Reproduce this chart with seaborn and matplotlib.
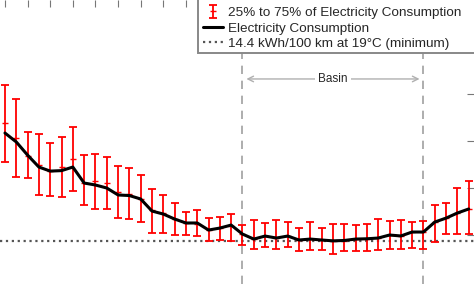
import matplotlib
matplotlib.use('Agg')
import matplotlib.pyplot as plt
from matplotlib.patches import Rectangle
import seaborn as sns
import numpy as np
import pandas as pd

# outside temperature (°C), one point per degree
temps = list(range(-10, 32))

# electricity consumption (kWh/100 km)
consumption = [25.85, 24.9, 23.5, 22.23, 21.8, 21.85, 22.23, 20.53, 20.32, 20.0,
               19.26, 19.2, 18.83, 17.55, 17.23, 16.7, 16.28, 16.28, 15.53, 15.74,
               16.06, 15.1, 14.57, 14.89, 14.68, 14.89, 14.47, 14.57, 14.47, 14.38,
               14.42, 14.57, 14.6, 14.68, 15.0, 14.9, 15.32, 15.32, 16.38, 16.8,
               17.34, 17.77]
median = [26.9, 25.3, 23.4, 22.4, 21.8, 22.2, 23.1, 20.5, 20.7, 20.5,
          19.6, 19.4, 18.8, 17.7, 17.3, 16.7, 16.3, 16.2, 15.5, 15.7,
          16.0, 15.1, 14.6, 14.9, 14.7, 14.9, 14.5, 14.6, 14.5, 14.4,
          14.4, 14.6, 14.6, 14.7, 15.0, 14.9, 15.3, 15.3, 16.4, 16.8,
          17.3, 17.8]
q75 = [30.96, 29.47, 25.96, 25.74, 24.79, 25.43, 26.49, 23.51, 23.6, 23.3,
       22.34, 22.13, 21.38, 19.89, 19.26, 18.4, 17.45, 17.66, 16.8, 16.9,
       17.23, 16.06, 16.6, 16.28, 16.6, 16.38, 15.74, 16.38, 15.74, 16.17,
       16.17, 16.06, 16.17, 16.7, 16.49, 16.6, 16.38, 16.49, 18.19, 18.4,
       20.0, 20.74]
q25 = [22.77, 21.17, 21.06, 19.26, 19.15, 19.04, 19.68, 18.19, 17.77, 17.77,
       16.81, 16.7, 16.38, 15.21, 15.21, 15.0, 15.0, 14.89, 14.36, 14.47,
       14.36, 13.94, 13.51, 13.72, 13.51, 13.72, 13.3, 13.4, 13.4, 12.98,
       13.3, 13.3, 13.3, 13.4, 13.51, 13.51, 13.6, 13.51, 14.26, 15.1,
       15.1, 15.1]

minimum = 14.4
basin = [11, 27]

sns.set_style('white')
plt.rcParams['font.family'] = ['Liberation Sans', 'DejaVu Sans']

fig = plt.figure(figsize=(4.74, 2.84), dpi=100)
ax = fig.add_axes([0, 0, 1, 1])

med = np.array(median)
lo = np.array(q25)
hi = np.array(q75)
eb = ax.errorbar(temps, med, yerr=[med - lo, hi - med], fmt='_', color='red',
                 ecolor='red', elinewidth=1.3, capsize=3, capthick=1.3,
                 markersize=5, zorder=3)

df = pd.DataFrame({'temp': temps, 'cons': consumption})
sns.lineplot(data=df, x='temp', y='cons', color='black', lw=2.2, ax=ax, zorder=4)
ln = ax.lines[-1]
mn = ax.axhline(minimum, color='#555555', ls=':', lw=1.6, zorder=2)

# basin markers
for b in basin:
    ax.axvline(b, color='#a0a0a0', ls=(0, (5, 4)), lw=1.2, zorder=1)
ax.annotate('', xy=(basin[0] + 0.1, 31.6), xytext=(basin[1] - 0.1, 31.6),
            arrowprops=dict(arrowstyle='<->', color='#b0b0b0', lw=1))
ax.text(sum(basin) / 2, 31.6, 'Basin', ha='center', va='center', fontsize=8.5,
        bbox=dict(fc='white', ec='none', pad=2))

ax.set_xlim(-10.44, 31.47)
ax.set_ylim(9.79, 40)
ax.set_xticks(range(-10, 31, 2))
ax.set_yticks([15, 20, 25, 30, 35])
ax.tick_params(direction='in', length=5, width=0.8, color='#777777',
               top=True, right=True, labelbottom=False, labelleft=False)
for s in ax.spines.values():
    s.set_visible(False)
ax.set_xlabel('')
ax.set_ylabel('')

# legend box runs past the top and right edges of the picture
box = Rectangle((198 / 474, 1 - 53 / 284), 0.6, 0.3, transform=fig.transFigure,
                fc='white', ec='#888888', lw=1.4, zorder=9, clip_on=False)
ax.add_patch(box)
leg = ax.legend([eb, ln, mn],
                ['25% to 75% of Electricity Consumption', 'Electricity Consumption',
                 '14.4 kWh/100 km at 19°C (minimum)'],
                loc='upper left', bbox_to_anchor=(200 / 474, 1 - 4 / 284),
                fontsize=9.7, frameon=False, handlelength=1.5, handletextpad=0.4,
                labelspacing=0.22, borderaxespad=0, borderpad=0.2)
leg.set_zorder(10)

fig.savefig('out.png', dpi=100)
